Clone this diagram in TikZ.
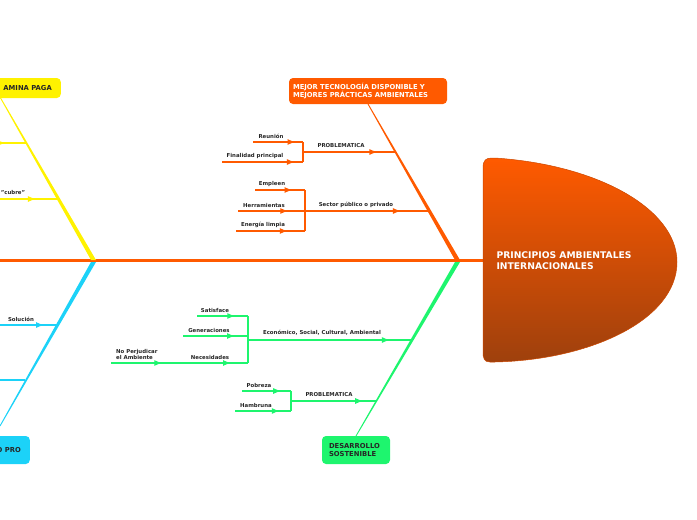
\documentclass[tikz,border=0pt]{standalone}
\usepackage{fontspec}
\setmainfont{DejaVu Sans}
\usetikzlibrary{arrows.meta,decorations.markings}
\definecolor{org}{HTML}{FF5A00}
\definecolor{grn}{HTML}{1EF56E}
\definecolor{yel}{HTML}{FFF200}
\definecolor{cya}{HTML}{1CD2F8}
\tikzset{
 lbl/.style={font=\fontsize{5.4}{6.2}\selectfont\bfseries, text=black!85, inner sep=0pt},
 box/.style={rounded corners=4pt, font=\fontsize{6.8}{8.6}\selectfont\bfseries, inner sep=0pt, align=left},
 br/.style={line width=1.2pt},
 arr/.style={postaction={decorate,decoration={markings,mark=at position #1 with {\arrow{Latex[length=8pt,width=6pt]}}}}}
}
\begin{document}
\begin{tikzpicture}[x=1pt,y=-1pt]
\useasboundingbox (0,0) rectangle (697,520);
% spine
\draw[org,line width=3pt] (0,260) -- (490,260);
% head
\shade[top color=org, bottom color=org!60!black!95, draw=org!80!black, line width=0.5pt]
 (495,158) .. controls (600,165) and (677,210) .. (677,262) .. controls (677,320) and (590,360) .. (495,362)
 -- (490,362) .. controls (484,362) and (483,358) .. (483,352) -- (483,168) .. controls (483,160) and (486,158) .. (492,158) -- cycle;
\node[anchor=west,text=white,font=\fontsize{9.2}{11}\selectfont\bfseries,align=left] (head) at (493,261) {PRINCIPIOS AMBIENTALES\\INTERNACIONALES};

% ORANGE bone
\fill[org] (367.5,104) -- (368.5,104) -- (460,260) -- (455,260) -- cycle;
\node[box,fill=org,text=white,minimum width=158pt,minimum height=26pt,text width=150pt] (ob) at (368,91) {MEJOR TECNOLOGÍA DISPONIBLE Y\\MEJORES PRÁCTICAS AMBIENTALES};
\draw[org,br,arr=0.8] (303,152) -- (396,152);
\node[lbl] at (341,146) {PROBLEMATICA};
\draw[org,br] (303,142) -- (303,162);
\draw[org,br,arr=0.85] (253,142) -- (303,142); \node[lbl] at (271,136) {Reunión};
\draw[org,br,arr=0.9] (222,162) -- (303,162); \node[lbl] at (255,156) {Finalidad principal};
\draw[org,br,arr=0.78] (305,211) -- (428,211);
\node[lbl] at (356,205) {Sector público o privado};
\draw[org,br] (305,190) -- (305,231);
\draw[org,br,arr=0.75] (255,190) -- (305,190); \node[lbl] at (272,184) {Empleen};
\draw[org,br,arr=0.75] (238,211) -- (305,211); \node[lbl] at (264,205) {Herramientas};
\draw[org,br,arr=0.75] (236,231) -- (305,231); \node[lbl] at (263,225) {Energía limpia};

% GREEN bone
\fill[grn] (355.5,436) -- (356.5,436) -- (460,262) -- (455,262) -- cycle;
\node[box,fill=grn,text=black!85,minimum width=68pt,minimum height=28pt,text width=54pt] (gb) at (356,450) {DESARROLLO\\SOSTENIBLE};
\draw[grn,br,arr=0.86] (248,340) -- (413,340);
\node[lbl] at (322,333) {Económico, Social, Cultural, Ambiental};
\draw[grn,br] (248,316) -- (248,363);
\draw[grn,br,arr=0.75] (197,316) -- (248,316); \node[lbl] at (215,310) {Satisface};
\draw[grn,br,arr=0.8] (183,336) -- (248,336); \node[lbl] at (209,330) {Generaciones};
\draw[grn,br,arr=0.8] (163,363) -- (248,363); \node[lbl] at (210,357) {Necesidades};
\draw[grn,br,arr=0.9] (111,363) -- (168,363);
\node[lbl,anchor=south west,align=left] at (116,360) {No Perjudicar\\el Ambiente};
\draw[grn,br,arr=0.84] (291,401) -- (377,401);
\node[lbl] at (329,395) {PROBLEMATICA};
\draw[grn,br] (291,391) -- (291,411);
\draw[grn,br,arr=0.8] (242,391) -- (291,391); \node[lbl] at (259,385) {Pobreza};
\draw[grn,br,arr=0.8] (235,411) -- (291,411); \node[lbl] at (256,405) {Hambruna};

% YELLOW bone
\fill[yel] (-0.5,97) -- (0.5,97) -- (96,260) -- (91,260) -- cycle;
\node[box,fill=yel,text=black!85,minimum height=20pt,anchor=east,inner xsep=9pt] (yb) at (61,88) {AMINA PAGA};
\draw[yel,br,arr=0.2] (0,143) -- (27,143);
\draw[yel,br,arr=0.62] (0,199) -- (58,199);
\node[lbl] at (13,192) {"cubre"};

% CYAN bone
\fill[cya] (-0.5,426) -- (0.5,426) -- (96,262) -- (91,262) -- cycle;
\node[box,fill=cya,text=black!85,minimum height=28pt,anchor=east,inner xsep=9pt] (cb) at (30,450) {O PRO};
\draw[cya,br,arr=0.76] (0,325) -- (58,325);
\node[lbl] at (21,319) {Solución};
\draw[cya,br] (0,380) -- (25,380);
\end{tikzpicture}
\end{document}
